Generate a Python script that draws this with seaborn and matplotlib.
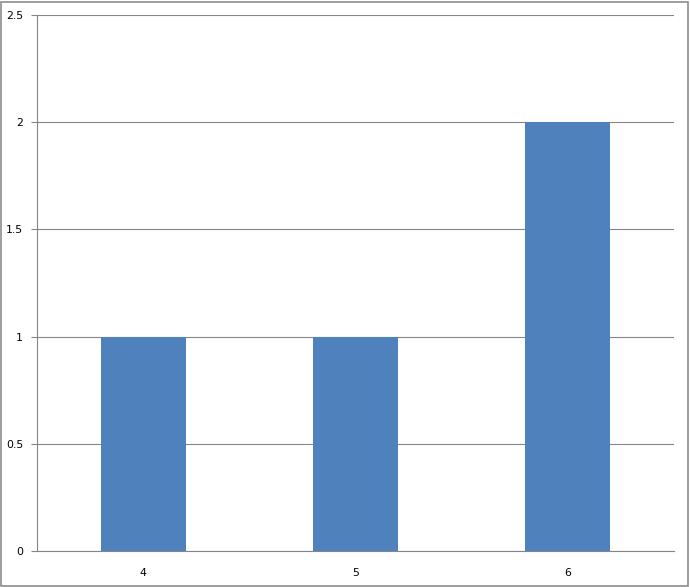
import numpy as np
import pandas as pd
import seaborn as sns
import matplotlib.pyplot as plt
from matplotlib.patches import Rectangle

categories = ["4", "5", "6"]
values = [1, 1, 2]
y_ticks = [0, 0.5, 1, 1.5, 2, 2.5]
y_labels = ["0", "0.5", "1", "1.5", "2", "2.5"]

sns.set_style("white")
plt.rcParams['font.family'] = ['DejaVu Sans']

df = pd.DataFrame({"cat": categories, "val": values})

fig = plt.figure(figsize=(6.9, 5.87), dpi=100)
ax = fig.add_axes([0.0536, 0.0613, 0.9232, 0.9131])

sns.barplot(data=df, x="cat", y="val", color="#4F81BD", saturation=1,
            width=0.4, linewidth=0, ax=ax, zorder=3)

grid_col = "#868686"
ax.set_xlim(-0.5, 2.5)
ax.set_ylim(0, 2.5)
ax.set_yticks(y_ticks)
ax.set_yticklabels(y_labels)
ax.yaxis.grid(True, color=grid_col, linewidth=0.8)
ax.set_axisbelow(True)
ax.set_xlabel("")
ax.set_ylabel("")

for s in ["top", "right"]:
    ax.spines[s].set_visible(False)
for s in ["left", "bottom"]:
    ax.spines[s].set_color(grid_col)
    ax.spines[s].set_linewidth(0.8)

# category boundary ticks
ax.set_xticks([-0.5, 0.5, 1.5, 2.5], minor=True)
ax.tick_params(axis="x", which="minor", length=4, color=grid_col, width=0.8, direction="out")
ax.tick_params(axis="x", which="major", length=0, pad=12, labelsize=7.8, labelcolor="black")
ax.tick_params(axis="y", length=4, color=grid_col, width=0.8, direction="out",
               pad=6, labelsize=7.8, left=True, labelcolor="black")

# outer chart frame
fig.patches.append(Rectangle((0.002, 0.002), 0.995, 0.995, transform=fig.transFigure,
                             fill=False, edgecolor="#8c8c8c", linewidth=1.2))

fig.savefig("out.png", dpi=100)
